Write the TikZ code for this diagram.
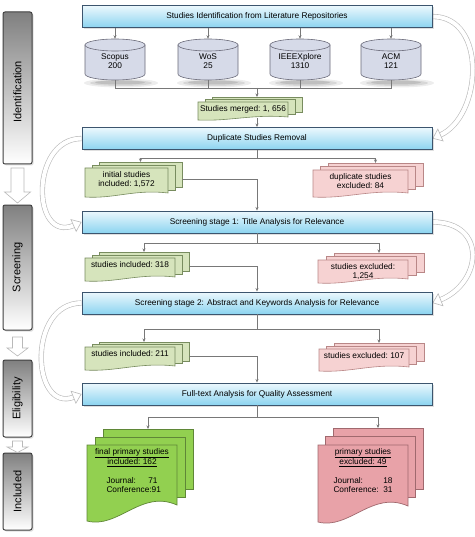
\documentclass[tikz,border=0pt]{standalone}
\usepackage{fontspec}
\setmainfont{Liberation Sans}
\usetikzlibrary{calc,arrows.meta,shadows,backgrounds}
\definecolor{blueTop}{RGB}{236,248,253}
\definecolor{blueBot}{RGB}{140,212,240}
\definecolor{blueBorder}{RGB}{60,85,110}
\definecolor{lgFill}{RGB}{214,228,188}
\definecolor{lgDraw}{RGB}{120,140,95}
\definecolor{lpFill}{RGB}{246,210,210}
\definecolor{lpDraw}{RGB}{185,135,135}
\definecolor{fgFill}{RGB}{146,208,80}
\definecolor{fgDraw}{RGB}{95,135,55}
\definecolor{fpFill}{RGB}{232,162,168}
\definecolor{fpDraw}{RGB}{160,105,110}
\definecolor{cylFill}{RGB}{214,218,232}
\definecolor{cylDraw}{RGB}{105,105,120}
\definecolor{lineGray}{RGB}{120,120,120}
\definecolor{hollowGray}{RGB}{185,185,185}
\newcommand\fs{\fontsize{8.3}{9.5}\selectfont}
\tikzset{
  bluebox/.style={draw=blueBorder, line width=0.9pt, top color=blueTop, bottom color=blueBot,
    minimum width=350, minimum height=22, inner sep=0pt, font=\fs,
    drop shadow={shadow xshift=1.5pt, shadow yshift=-1.5pt, opacity=0.25}},
  sidebox/.style={draw=black!75, line width=1pt, rounded corners=2pt, top color=black!50,
    bottom color=white, minimum width=29, inner sep=0pt,
    drop shadow={shadow xshift=1.5pt, shadow yshift=-1.5pt, opacity=0.25}},
  sidetext/.style={rotate=90, font=\fontsize{11}{13}\selectfont},
  conn/.style={draw=lineGray, line width=0.6pt},
  arr/.style={conn, -{Stealth[length=3.5pt, width=3pt]}},
  gpage/.style={fill=lgFill, draw=lgDraw, line width=0.6pt},
  ppage/.style={fill=lpFill, draw=lpDraw, line width=0.6pt},
  fgpage/.style={fill=fgFill, draw=fgDraw, line width=0.7pt},
  fppage/.style={fill=fpFill, draw=fpDraw, line width=0.7pt},
  doctext/.style={anchor=north, align=center, inner sep=3pt, font=\fs},
  cylbox/.style={minimum width=60, minimum height=41, inner sep=0pt},
  cylbody/.style={fill=cylFill, draw=cylDraw, line width=0.6pt},
  cyltext/.style={align=center, font=\fs},
  hollow/.style={draw=hollowGray, line width=0.6pt, double=white, double distance=4pt, shorten >=8pt},
  hollowtip/.style={draw=white, line width=0.2pt,
    -{Triangle[length=9pt, width=14pt, fill=white, color=hollowGray, line width=0.6pt]}},
  sidearrow/.style={fill=white, draw=hollowGray, line width=0.6pt},
}
% multi-document: name, cx, cy, w, h, wave depth, dx, dy, style ; then {text};
\newcommand\mdoc[9]{%
  \pgfmathsetmacro\mdL{#2-#4/2}%
  \pgfmathsetmacro\mdR{#2+#4/2}%
  \pgfmathsetmacro\mdT{#3+#5/2}%
  \pgfmathsetmacro\mdB{#3-#5/2}%
  \path[#9] ({\mdL+2*#7},{\mdB+#6+2*#8}) rectangle ({\mdR+2*#7},{\mdT+2*#8});%
  \path[#9] ({\mdL+#7},{\mdB+#6+#8}) rectangle ({\mdR+#7},{\mdT+#8});%
  \path[#9] (\mdL,\mdT) -- (\mdR,\mdT) -- (\mdR,{\mdB+#6}) .. controls ({\mdR-0.4*#4},{\mdB+2*#6}) and ({\mdL+0.35*#4},{\mdB-0.5*#6}) .. (\mdL,\mdB) -- cycle;%
  \coordinate (#1-top) at ({#2+2*#7},{\mdT+2*#8});%
  \coordinate (#1-right) at ({\mdR+2*#7},{#3+#8});%
  \coordinate (#1-bot) at (#2,{\mdB+#6/2});%
  \node[doctext] (#1) at (#2,\mdT)}
% cylinder: name, cx, label
\newcommand\cyl[3]{%
  \node[cylbox] (#1) at (#2,-59.5) {};%
  \fill[black,opacity=0.07] ({#2+6},-83) ellipse [x radius=37, y radius=4.5];%
  \fill[black,opacity=0.09] ({#2+6},-83) ellipse [x radius=31, y radius=3];%
  \fill[black,opacity=0.11] ({#2+5},-82.5) ellipse [x radius=25, y radius=2];%
  \path[cylbody] ({#2-30},-45) -- ({#2-30},-74) arc[start angle=180, end angle=360, x radius=30, y radius=6] -- ({#2+30},-45) -- cycle;%
  \path[cylbody] (#2,-45) ellipse [x radius=30, y radius=6];%
  \node[cyltext] (#1-t) at (#2,-61) {#3};%
}
\begin{document}
\begin{tikzpicture}[x=1pt,y=1pt]
\useasboundingbox (0,0) rectangle (474,-537);

% phase sidebar
\node[sidebox, minimum height=152] (ident) at (17.5,-88) {};
\node[sidetext] (identT) at (17.5,-92) {Identification};
\node[sidebox, minimum height=125] (screen) at (17.5,-267.5) {};
\node[sidetext] (screenT) at (screen) {Screening};
\node[sidebox, minimum height=77] (elig) at (17.5,-398.5) {};
\node[sidetext] (eligT) at (elig) {Eligibility};
\node[sidebox, minimum height=77] (incl) at (17.5,-491.5) {};
\node[sidetext] (inclT) at (incl) {Included};
\path[sidearrow] (11,-168) -- (24,-168) -- (24,-192) -- (30.5,-192) -- (17.5,-203) -- (4.5,-192) -- (11,-192) -- cycle;
\path[sidearrow] (12.5,-337) -- (22.5,-337) -- (22.5,-348) -- (28,-348) -- (17.5,-356) -- (7,-348) -- (12.5,-348) -- cycle;
\path[sidearrow] (12.5,-441) -- (22.5,-441) -- (22.5,-447) -- (28,-447) -- (17.5,-452.5) -- (7,-447) -- (12.5,-447) -- cycle;

% main process boxes
\node[bluebox] (b1) at (257,-16.5) {Studies Identification from Literature Repositories};
\node[bluebox] (b2) at (257,-138.5) {Duplicate Studies Removal};
\node[bluebox] (b3) at (257,-222) {Screening stage 1: Title Analysis for Relevance};
\node[bluebox] (b4) at (257,-303) {Screening stage 2: Abstract and Keywords Analysis for Relevance};
\node[bluebox] (b5) at (257,-394) {Full-text Analysis for Quality Assessment};

% repositories
\cyl{scopus}{115}{Scopus\\200}
\cyl{wos}{208}{WoS\\25}
\cyl{ieee}{300}{IEEEXplore\\1310}
\cyl{acm}{391}{ACM\\121}

% documents
\mdoc{merged}{243}{-111}{90}{18}{3}{7}{2.5}{gpage}{Studies merged:~1, 656};
\mdoc{initial}{126.5}{-182.5}{83}{29}{4}{7}{3}{gpage}{initial studies\\included:~1,572};
\mdoc{dup}{360.5}{-183.5}{95}{27}{4}{7.5}{3.5}{ppage}{duplicate studies\\excluded:~84};
\mdoc{inca}{130}{-269.5}{90}{23}{4}{7}{3}{gpage}{studies included:~318};
\mdoc{exca}{363}{-271.5}{90}{23}{4}{8}{3.5}{ppage}{studies excluded:\\1,254};
\mdoc{incb}{130}{-358.5}{90}{23}{4}{7}{2.5}{gpage}{studies included:~211};
\mdoc{excb}{364}{-360}{90}{22}{4}{7.5}{3}{ppage}{studies excluded:~107};
\mdoc{fin}{132}{-483}{90}{76}{16}{8}{8}{fgpage}{\underline{final primary studies}\\\underline{included:~162}\\[9pt]\makebox[51pt][l]{Journal:\hfill 71}\\\makebox[51pt][l]{Conference:91}};
\mdoc{fex}{363}{-483.5}{90}{77}{16}{7.5}{8.5}{fppage}{\underline{primary studies}\\\underline{excluded:~49}\\[9pt]\makebox[59pt][l]{Journal:\hfill 18}\\\makebox[59pt][l]{Conference:\hfill 31}};

% connectors
\coordinate (mergeY) at (257,-88);
\foreach \cn in {scopus,wos,ieee,acm} \draw[arr] (b1.south -| \cn) -- (\cn.north);
\draw[conn] (scopus.south) -- (scopus.south |- mergeY) -- (acm.south |- mergeY) -- (acm.south);
\draw[conn] (wos.south) -- (wos.south |- mergeY);
\draw[conn] (ieee.south) -- (ieee.south |- mergeY);
\draw[arr] (mergeY) -- (merged-top);
\draw[arr] (b2.north |- merged-bot) -- (b2.north);

\draw[conn] (b2.south) -- ++(0,-8) coordinate (s2);
\draw[arr] (s2) -| (initial-top);
\draw[arr] (s2) -| (dup-top);
\draw[arr] (initial-right) -| (b3.north);

\draw[conn] (b3.south) -- ++(0,-10) coordinate (s3);
\draw[arr] (s3) -| (inca-top);
\draw[arr] (s3) -| (exca-top);
\draw[arr] (inca-right) -| (b4.north);

\draw[conn] (b4.south) -- ++(0,-15) coordinate (s4);
\draw[arr] (s4) -| (incb-top);
\draw[arr] (s4) -| (excb-top);
\draw[arr] (incb-right) -| (b5.north);

\draw[conn] (b5.south) -- ++(0,-12) coordinate (s5);
\draw[arr] (s5) -| (fin-top);
\draw[arr] (s5) -| (fex-top);

% hollow curved arrows behind the boxes
\begin{pgfonlayer}{background}
\fill[white] (0,0) rectangle (474,-537);
\draw[hollow] (b1.east) .. controls +(55,0) and +(50,22) .. (b2.east);
\draw[hollowtip] (b1.east) .. controls +(55,0) and +(50,22) .. (b2.east);
\draw[hollow] (b2.west) .. controls +(-52,0) and +(-50,-22) .. (b3.west);
\draw[hollowtip] (b2.west) .. controls +(-52,0) and +(-50,-22) .. (b3.west);
\draw[hollow] (b3.east) .. controls +(55,0) and +(50,20) .. (b4.east);
\draw[hollowtip] (b3.east) .. controls +(55,0) and +(50,20) .. (b4.east);
\draw[hollow] (b4.west) .. controls +(-55,0) and +(-50,-20) .. (b5.west);
\draw[hollowtip] (b4.west) .. controls +(-55,0) and +(-50,-20) .. (b5.west);
\end{pgfonlayer}
\end{tikzpicture}
\end{document}
